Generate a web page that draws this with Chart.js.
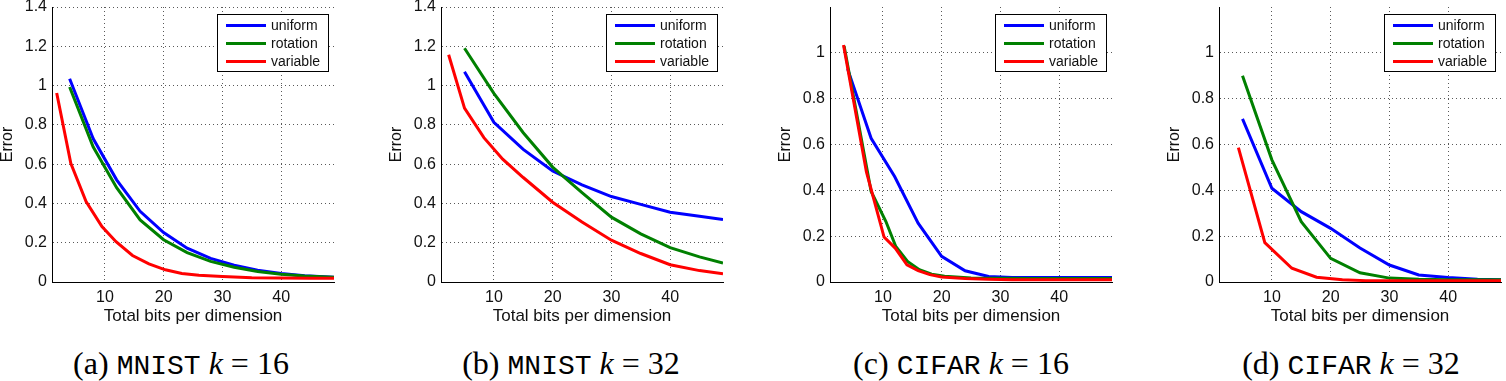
<!DOCTYPE html>
<html><head><meta charset="utf-8">
<script src="https://cdn.jsdelivr.net/npm/chart.js@4.4.1/dist/chart.umd.min.js"></script>
<style>
html,body{margin:0;padding:0;background:#fff;width:1506px;height:381px;overflow:hidden;position:relative;}
canvas{position:absolute;top:0;}
.cap{position:absolute;top:345px;white-space:nowrap;transform:translateX(-50%);font-family:'Liberation Serif',serif;font-size:32px;line-height:36px;color:#000;}
.cap .tt{font-family:'Liberation Mono',monospace;font-size:28px;}
.cap i{font-family:'Liberation Serif',serif;}
</style></head><body>
<canvas id="ca" width="340" height="330" style="left:0px"></canvas>
<canvas id="cb" width="340" height="330" style="left:389px"></canvas>
<canvas id="cc" width="340" height="330" style="left:778px"></canvas>
<canvas id="cd" width="340" height="330" style="left:1167px"></canvas>
<div class="cap" style="left:181px">(a) <span class="tt">MNIST</span> <i>k</i> = 16</div>
<div class="cap" style="left:571px">(b) <span class="tt">MNIST</span> <i>k</i> = 32</div>
<div class="cap" style="left:961px">(c) <span class="tt">CIFAR</span> <i>k</i> = 16</div>
<div class="cap" style="left:1351px">(d) <span class="tt">CIFAR</span> <i>k</i> = 32</div>
<script>
// ---- data ----
const seriesNames = ['uniform', 'rotation', 'variable'];
const xTicks = [10, 20, 30, 40];
const yTicksMNIST = [0, 0.2, 0.4, 0.6, 0.8, 1, 1.2, 1.4];
const yTicksCIFAR = [0, 0.2, 0.4, 0.6, 0.8, 1];

// (a) MNIST k=16
const aUniformX  = [4, 8, 12, 16, 20, 24, 28, 32, 36, 40, 44, 49];
const aUniformY  = [1.035, 0.73, 0.52, 0.36, 0.252, 0.172, 0.12, 0.085, 0.06, 0.043, 0.032, 0.024];
const aRotationX = [4, 8, 12, 16, 20, 24, 28, 32, 36, 40, 44, 49];
const aRotationY = [0.993, 0.688, 0.48, 0.316, 0.215, 0.15, 0.105, 0.075, 0.053, 0.04, 0.03, 0.024];
const aVariableX = [1.8, 4.2, 6.8, 9.5, 11.9, 14.7, 17.5, 20.3, 23.1, 26, 30, 35, 40, 45, 49];
const aVariableY = [0.962, 0.604, 0.41, 0.282, 0.205, 0.135, 0.092, 0.062, 0.043, 0.034, 0.028, 0.022, 0.02, 0.019, 0.019];

// (b) MNIST k=32
const bUniformX  = [5, 10, 15, 20, 25, 30, 35, 40, 45, 49];
const bUniformY  = [1.07, 0.813, 0.675, 0.565, 0.495, 0.435, 0.395, 0.355, 0.335, 0.318];
const bRotationX = [5, 10, 15, 20, 25, 30, 35, 40, 45, 49];
const bRotationY = [1.19, 0.96, 0.76, 0.585, 0.455, 0.33, 0.245, 0.175, 0.128, 0.097];
const bVariableX = [2.3, 5, 8.3, 11.5, 15, 20, 25, 30, 35, 40, 45, 49];
const bVariableY = [1.157, 0.885, 0.735, 0.625, 0.532, 0.406, 0.305, 0.213, 0.145, 0.088, 0.058, 0.042];

// (c) CIFAR k=16
const cUniformX  = [4, 8, 12, 16, 20, 24, 28, 32, 36, 40, 44, 49];
const cUniformY  = [0.93, 0.627, 0.46, 0.257, 0.112, 0.049, 0.024, 0.02, 0.02, 0.02, 0.02, 0.02];
const cRotationX = [3.4, 8, 10.5, 12.2, 14.2, 16.2, 18.3, 20.5, 25, 30, 35, 40, 45, 49];
const cRotationY = [1.03, 0.395, 0.265, 0.155, 0.09, 0.054, 0.034, 0.025, 0.018, 0.016, 0.015, 0.015, 0.015, 0.015];
const cVariableX = [3.3, 7.2, 10.2, 12.1, 14.1, 16, 18, 20, 24, 28, 32, 36, 40, 44, 49];
const cVariableY = [1.034, 0.48, 0.196, 0.148, 0.075, 0.05, 0.032, 0.022, 0.015, 0.012, 0.01, 0.01, 0.01, 0.01, 0.01];

// (d) CIFAR k=32
const dUniformX  = [5, 10, 15, 20, 25, 30, 35, 40, 45, 49];
const dUniformY  = [0.712, 0.409, 0.307, 0.234, 0.148, 0.074, 0.031, 0.02, 0.012, 0.01];
const dRotationX = [5, 10, 15, 20, 25, 30, 35, 40, 45, 49];
const dRotationY = [0.9, 0.533, 0.263, 0.103, 0.04, 0.017, 0.012, 0.01, 0.01, 0.01];
const dVariableX = [4.3, 8.8, 13.4, 17.6, 22, 26, 30, 35, 40, 45, 49];
const dVariableY = [0.586, 0.172, 0.06, 0.021, 0.01, 0.006, 0.005, 0.005, 0.005, 0.005, 0.005];

// ---- styling ----
const colors = ['#0000ff', '#008000', '#ff0000'];
const SANS = '"Liberation Sans", Arial, sans-serif';
const gridColor = 'rgba(0,0,0,0.65)';

const boxLegend = {
  id: 'boxLegend',
  afterDatasetsDraw(chart) {
    const {ctx, chartArea} = chart;
    const w = 111, h = 57;
    const x0 = Math.round(chartArea.right - 6 - w), y0 = Math.round(chartArea.top + 7);
    ctx.save();
    ctx.fillStyle = '#fff';
    ctx.fillRect(x0, y0, w, h);
    ctx.strokeStyle = '#000';
    ctx.lineWidth = 1;
    ctx.strokeRect(x0 + 0.5, y0 + 0.5, w, h);
    chart.data.datasets.forEach((ds, i) => {
      const y = y0 + 11.5 + i * 18;
      ctx.strokeStyle = ds.borderColor;
      ctx.lineWidth = 3;
      ctx.beginPath(); ctx.moveTo(x0 + 9, y); ctx.lineTo(x0 + 49, y); ctx.stroke();
      ctx.fillStyle = '#111';
      ctx.font = '14px ' + SANS;
      ctx.textBaseline = 'middle';
      ctx.textAlign = 'left';
      ctx.fillText(ds.label, x0 + 54, y + 1);
    });
    ctx.restore();
  }
};

function makeChart(id, yMax, yTickVals, xs, ys) {
  const datasets = seriesNames.map((name, i) => ({
    label: name,
    data: xs[i].map((x, j) => ({x: x, y: ys[i][j]})),
    borderColor: colors[i],
    backgroundColor: colors[i],
    borderWidth: 3,
    pointRadius: 0,
    tension: 0,
    fill: false,
    order: 3 - i
  }));
  new Chart(document.getElementById(id), {
    type: 'line',
    data: {datasets},
    plugins: [boxLegend],
    options: {
      responsive: false,
      animation: false,
      events: [],
      layout: {padding: {top: 7, right: 6, left: 0, bottom: 0}},
      plugins: {legend: {display: false}, tooltip: {enabled: false}},
      scales: {
        x: {
          type: 'linear', min: 1, max: 49,
          afterBuildTicks: s => { s.ticks = xTicks.map(v => ({value: v})); },
          afterFit: s => { s.height = 48; s.paddingLeft = 0; s.paddingRight = 0; },
          grid: {color: gridColor, lineWidth: 1, drawTicks: false},
          border: {display: true, color: '#000', width: 1, dash: [1, 3]},
          ticks: {padding: 6, color: '#111', font: {family: SANS, size: 16}, maxRotation: 0,
                  callback: v => String(v)},
          title: {display: true, text: 'Total bits per dimension', color: '#111',
                  font: {family: SANS, size: 17}, padding: {top: 0, bottom: 3}}
        },
        y: {
          type: 'linear', min: 0, max: yMax,
          afterBuildTicks: s => { s.ticks = yTickVals.map(v => ({value: v})); },
          afterFit: s => { s.width = 52; s.paddingTop = 0; s.paddingBottom = 0; },
          grid: {color: gridColor, lineWidth: 1, drawTicks: false},
          border: {display: true, color: '#000', width: 1, dash: [1, 3]},
          ticks: {padding: 5, color: '#111', font: {family: SANS, size: 16},
                  callback: v => String(Math.round(v * 10) / 10)},
          title: {display: true, text: 'Error', color: '#111',
                  font: {family: SANS, size: 16, lineHeight: 1}, padding: 0}
        }
      }
    }
  });
}

makeChart('ca', 1.4, yTicksMNIST, [aUniformX, aRotationX, aVariableX], [aUniformY, aRotationY, aVariableY]);
makeChart('cb', 1.4, yTicksMNIST, [bUniformX, bRotationX, bVariableX], [bUniformY, bRotationY, bVariableY]);
makeChart('cc', 1.2, yTicksCIFAR, [cUniformX, cRotationX, cVariableX], [cUniformY, cRotationY, cVariableY]);
makeChart('cd', 1.2, yTicksCIFAR, [dUniformX, dRotationX, dVariableX], [dUniformY, dRotationY, dVariableY]);
</script>
</body></html>
